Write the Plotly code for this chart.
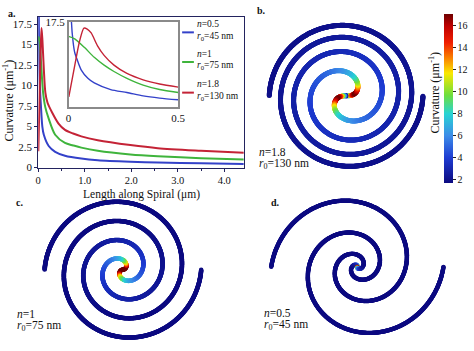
import numpy as np
import plotly.graph_objects as go

W, H = 474, 351

# ---------------- data: panel a, main plot ----------------
len_blue = [0.008, 0.013, 0.021, 0.028, 0.043, 0.058, 0.088, 0.12, 0.225, 0.364, 0.575, 0.926, 1.28, 1.98, 2.57, 3.5, 4.42]
curv_blue = [30.0, 17.5, 13.0, 11.0, 9.0, 7.5, 5.0, 4.0, 2.63, 1.92, 1.45, 1.1, 0.9, 0.72, 0.62, 0.52, 0.45]

len_green = [0.0, 0.03, 0.06, 0.105, 0.15, 0.225, 0.364, 0.575, 0.75, 0.926, 1.28, 1.98, 2.57, 3.5, 4.42]
curv_green = [16.0, 15.3, 12.8, 9.1, 7.4, 5.96, 4.0, 3.0, 2.7, 2.43, 2.04, 1.6, 1.38, 1.15, 0.98]

len_red = [0.002, 0.03, 0.05, 0.07, 0.09, 0.12, 0.154, 0.2, 0.295, 0.436, 0.575, 0.75, 0.926, 1.28, 1.98, 2.57, 3.5, 4.42]
curv_red = [2.0, 9.0, 14.0, 17.0, 15.5, 12.0, 9.1, 7.9, 6.75, 5.37, 4.6, 4.15, 3.8, 3.33, 2.74, 2.36, 2.05, 1.8]

# ---------------- data: panel a, inset ----------------
ins_len_blue = [0.012, 0.013, 0.021, 0.028, 0.043, 0.058, 0.088, 0.117, 0.192, 0.266, 0.34, 0.415, 0.5]
ins_curv_blue = [30.0, 17.5, 13.2, 11.2, 9.25, 7.6, 5.9, 4.95, 3.6, 3.0, 2.3, 1.85, 1.5]

ins_len_green = [0.0, 0.028, 0.073, 0.117, 0.162, 0.207, 0.266, 0.34, 0.415, 0.5]
ins_curv_green = [14.5, 14.0, 12.2, 10.2, 8.6, 7.3, 5.9, 4.5, 3.6, 3.0]

ins_len_red = [0.001, 0.028, 0.05, 0.07, 0.085, 0.103, 0.132, 0.162, 0.207, 0.266, 0.34, 0.415, 0.5]
ins_curv_red = [2.1, 8.5, 13.5, 16.2, 16.0, 15.2, 12.55, 10.6, 8.6, 6.9, 5.6, 4.75, 4.1]

# legend / labels
legend_n = ["0.5", "1", "1.8"]
legend_r0 = ["45", "75", "130"]
series_colors = ["#3341c9", "#3fb43c", "#c42336"]

x_ticks = [0, 1, 2, 3, 4]
x_ticktext = ["0", "1.0", "2.0", "3.0", "4.0"]
y_ticks = [0, 2.5, 5, 7.5, 10, 12.5, 15, 17.5]
y_ticktext = ["0", "2.5", "5", "7.5", "10", "12.5", "15", "17.5"]
cbar_ticks = [2, 4, 6, 8, 10, 12, 14, 16]

# ---------------- data: spirals b, c, d ----------------
spiral_n = [1.8, 1.0, 0.5]
spiral_r0_um = [0.130, 0.075, 0.045]
spiral_turns = [2.0, 2.0, 2.0]
spiral_panel = ["b", "c", "d"]

CMIN, CMAX = 1.67, 17.1

colorscale = [
    [0.0, "rgb(12,10,128)"],
    [0.15, "rgb(30,60,210)"],
    [0.28, "rgb(60,140,232)"],
    [0.41, "rgb(40,212,212)"],
    [0.52, "rgb(110,222,60)"],
    [0.65, "rgb(250,232,0)"],
    [0.73, "rgb(250,140,0)"],
    [0.83, "rgb(240,30,0)"],
    [0.93, "rgb(190,0,0)"],
    [1.0, "rgb(110,0,0)"],
]

FONT = "Liberation Serif"


def px2x(px):
    return px / W


def px2y(py):
    return 1 - py / H


fig = go.Figure()

# ---- main curves ----
main_sets = [(len_blue, curv_blue), (len_green, curv_green), (len_red, curv_red)]
for (xs, ys), col in zip(main_sets, series_colors):
    fig.add_trace(go.Scatter(x=xs, y=ys, mode="lines", xaxis="x", yaxis="y",
                             line=dict(color=col, width=2, shape="spline", smoothing=0.8),
                             showlegend=False, hoverinfo="skip"))

ins_sets = [(ins_len_blue, ins_curv_blue), (ins_len_green, ins_curv_green), (ins_len_red, ins_curv_red)]
for (xs, ys), col in zip(ins_sets, series_colors):
    fig.add_trace(go.Scatter(x=xs, y=ys, mode="lines", xaxis="x2", yaxis="y2",
                             line=dict(color=col, width=1.4, shape="spline", smoothing=0.7),
                             showlegend=False, hoverinfo="skip"))

# ---- spirals ----
spiral_geom = {  # center px, outer radius px, half-box px, marker size
    "b": dict(cx=350.5, cy=93, rend=78.5, hw=86, hh=82, ms=5.0),
    "c": dict(cx=122.5, cy=273, rend=80, hw=88, hh=76, ms=4.6),
    "d": dict(cx=362, cy=270, rend=88, hw=94, hh=76, ms=4.4),
}
axis_ids = {"b": 3, "c": 4, "d": 5}

for n, r0, turns, pan in zip(spiral_n, spiral_r0_um, spiral_turns, spiral_panel):
    g = spiral_geom[pan]
    p = 1.0 / n
    th = np.linspace(1e-4, 2 * np.pi * turns, 60000)
    r = r0 * th ** p
    kap = th ** (1 - p) * (th ** 2 + p ** 2 + p) / (r0 * (th ** 2 + p ** 2) ** 1.5)
    s = g["rend"] / r[-1]
    xa = s * r * np.cos(th)
    ya = s * r * np.sin(th)
    ds = np.hypot(np.diff(xa), np.diff(ya))
    cum = np.concatenate([[0], np.cumsum(ds)])
    idx = np.searchsorted(cum, np.arange(0, cum[-1], 0.55))
    idx = np.unique(np.clip(idx, 0, len(th) - 1))
    xs = np.concatenate([xa[idx], -xa[idx]])
    ys = np.concatenate([ya[idx], -ya[idx]])
    cs = np.concatenate([kap[idx], kap[idx]])
    k = axis_ids[pan]
    marker = dict(size=g["ms"], color=cs, colorscale=colorscale, cmin=CMIN, cmax=CMAX,
                  line=dict(width=0))
    if pan == "b":
        marker.update(showscale=True, colorbar=dict(
            thickness=9, thicknessmode="pixels", len=175 / H, lenmode="fraction",
            x=px2x(450), xanchor="left", y=px2y(8), yanchor="top", xpad=0, ypad=0,
            outlinewidth=0, tickvals=cbar_ticks, ticks="outside", ticklen=3,
            tickcolor="#222", tickfont=dict(family=FONT, size=10, color="#111")))
    fig.add_trace(go.Scatter(x=xs, y=ys, mode="markers", xaxis=f"x{k}", yaxis=f"y{k}",
                             marker=marker, showlegend=False, hoverinfo="skip"))

frame_col = "#23235e"
layout = dict(
    width=W, height=H, autosize=False,
    margin=dict(l=0, r=0, t=0, b=0),
    paper_bgcolor="white", plot_bgcolor="rgba(0,0,0,0)",
    font=dict(family=FONT, size=11, color="#111"),
    xaxis=dict(domain=[px2x(36), px2x(246)], range=[0, 4.42], tickvals=x_ticks, ticktext=x_ticktext,
               ticks="outside", ticklen=3, tickcolor=frame_col, showline=True, mirror=True,
               linecolor=frame_col, linewidth=1.3, showgrid=False, zeroline=False,
               minor=dict(dtick=0.5, ticks="outside", ticklen=2, tickcolor=frame_col),
               tickfont=dict(size=10.5)),
    yaxis=dict(domain=[px2y(167.3), px2y(11)], range=[0, 18.4], tickvals=y_ticks, ticktext=y_ticktext,
               ticks="outside", ticklen=3, tickcolor=frame_col, showline=True, mirror=True,
               linecolor=frame_col, linewidth=1.3, showgrid=False, zeroline=False,
               tickfont=dict(size=11)),
    xaxis2=dict(domain=[px2x(67), px2x(179)], range=[0, 0.5], anchor="y2", tickvals=[0, 0.5],
                ticktext=["0", "0.5"], ticks="", showline=True, mirror=True, linecolor="#8a8a8a",
                linewidth=1.5, showgrid=False, zeroline=False, tickfont=dict(size=11)),
    yaxis2=dict(domain=[px2y(104.7), px2y(16.3)], range=[0, 17.5], anchor="x2", tickvals=[17.5],
                ticktext=["17.5"], ticks="", showline=True, mirror=True, linecolor="#8a8a8a",
                linewidth=1.5, showgrid=False, zeroline=False, tickfont=dict(size=11)),
)
for pan, k in axis_ids.items():
    g = spiral_geom[pan]
    layout[f"xaxis{k}"] = dict(domain=[px2x(g["cx"] - g["hw"]), px2x(g["cx"] + g["hw"])],
                               range=[-g["hw"], g["hw"]], visible=False, anchor=f"y{k}")
    layout[f"yaxis{k}"] = dict(domain=[px2y(g["cy"] + g["hh"]), px2y(g["cy"] - g["hh"])],
                               range=[-g["hh"], g["hh"]], visible=False, anchor=f"x{k}")

annotations = []


def ann(text, x, y, size=11, xanchor="center", yanchor="middle", angle=0, **kw):
    annotations.append(dict(text=text, x=px2x(x), y=px2y(y), xref="paper", yref="paper",
                            showarrow=False, xanchor=xanchor, yanchor=yanchor, textangle=angle,
                            font=dict(family=FONT, size=size, color="#111"), **kw))


# axis titles
ann("Curvature (μm<sup>-1</sup>)", 6, 98, size=12, angle=-90)
ann("Length along Spiral (μm)", 141, 195, size=11.5)
ann("Curvature (μm<sup>-1</sup>)", 441, 90, size=12, angle=-90)

# panel letters
ann("<b>a.</b>", 3, 0, size=10, xanchor="left", yanchor="top")
ann("<b>b.</b>", 257, 5, size=10, xanchor="left")
ann("<b>c.</b>", 11, 203, size=10, xanchor="left")
ann("<b>d.</b>", 272, 203, size=10, xanchor="left")

# legend (manual)
legend_y = [27.3, 58, 89.7]
shapes = []
for nn, rr, col, ly in zip(legend_n, legend_r0, series_colors, legend_y):
    shapes.append(dict(type="line", xref="paper", yref="paper", x0=px2x(183), x1=px2x(195),
                       y0=px2y(ly), y1=px2y(ly), line=dict(color=col, width=2)))
    ann(f"<i>n</i>={nn}", 196, ly - 8.5, size=9.5, xanchor="left")
    ann(f"<i>r</i><sub>0</sub>={rr} nm", 196, ly + 4, size=9.5, xanchor="left")

# spiral labels
spiral_label_pos = {"b": (259, 151.5), "c": (12, 318.5), "d": (265, 317.5)}
for n, r0, pan in zip(spiral_n, spiral_r0_um, spiral_panel):
    lx, ly = spiral_label_pos[pan]
    ann(f"<i>n</i>={n:g}", lx, ly, size=11.5, xanchor="left")
    ann(f"<i>r</i><sub>0</sub>={r0 * 1000:.0f} nm", lx, ly + 12.5, size=11.5, xanchor="left")

layout["annotations"] = annotations
layout["shapes"] = shapes
fig.update_layout(**layout)

fig.write_html("out.html", config=dict(displayModeBar=False))
